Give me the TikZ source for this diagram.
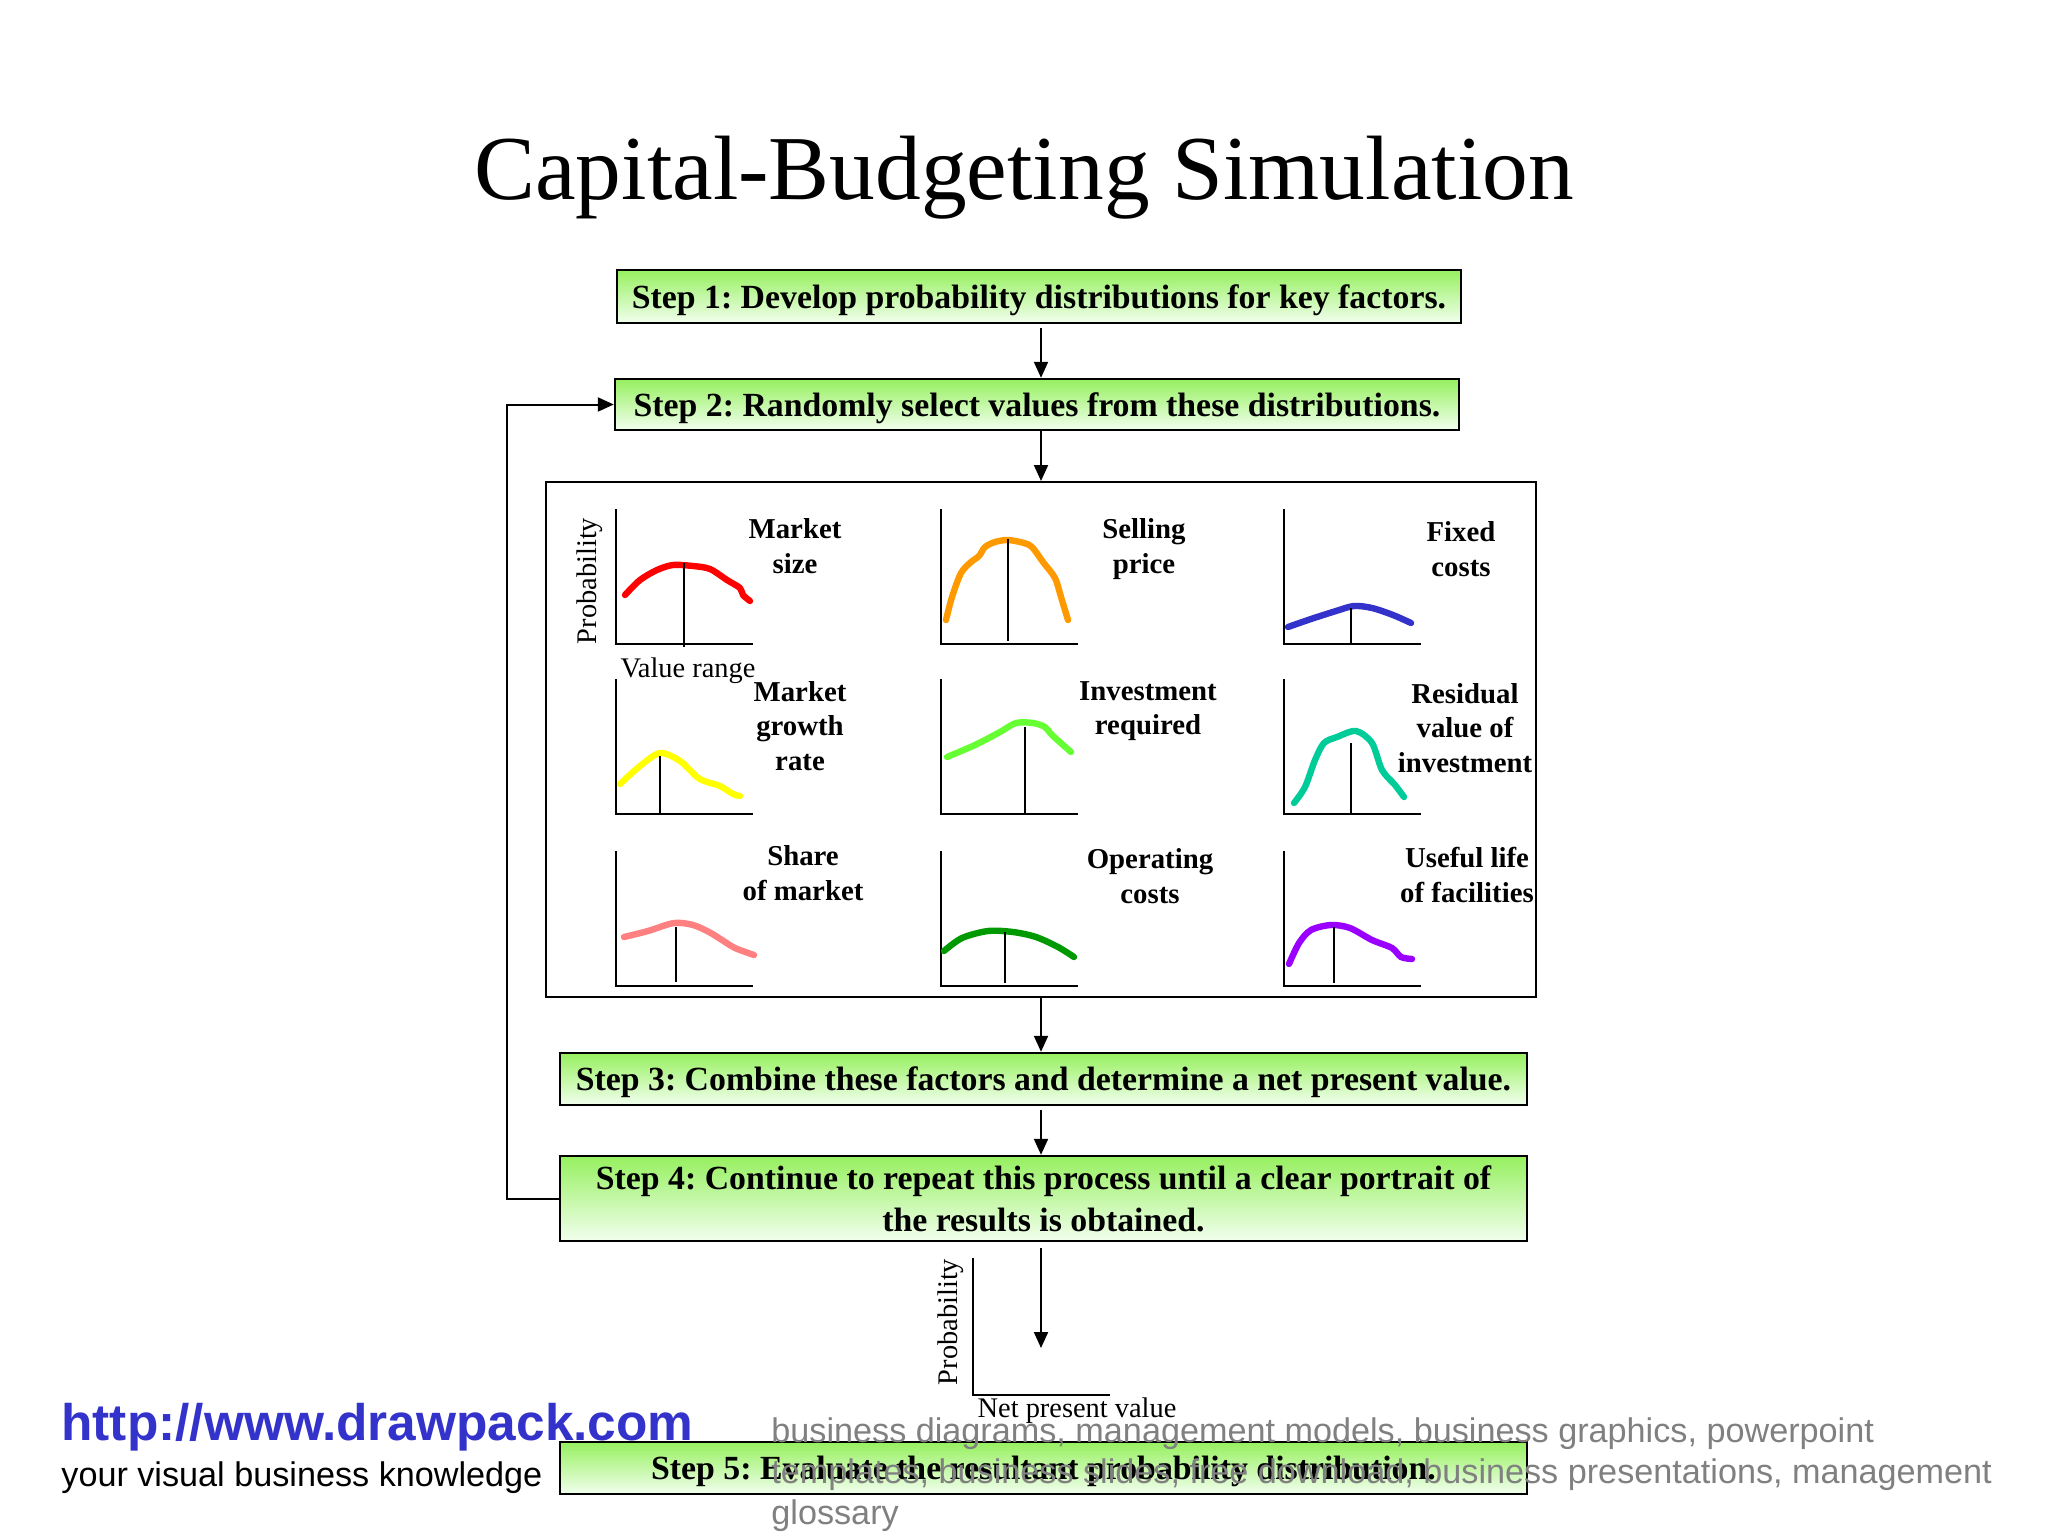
\documentclass[tikz,border=0pt]{standalone}
\usepackage{fontspec}
\setmainfont{Liberation Serif}
\newfontfamily\arialfont{Liberation Sans}
\usetikzlibrary{positioning,arrows.meta}
\definecolor{stepgreen}{RGB}{150,240,95}
\definecolor{steppale}{RGB}{242,255,238}
\definecolor{linkblue}{RGB}{51,51,204}
\definecolor{slogangrey}{RGB}{128,128,128}
\definecolor{cred}{RGB}{255,0,0}
\definecolor{corange}{RGB}{255,153,0}
\definecolor{cblue}{RGB}{51,51,204}
\definecolor{cyellow}{RGB}{255,255,0}
\definecolor{clime}{RGB}{102,255,51}
\definecolor{cteal}{RGB}{0,204,153}
\definecolor{cpink}{RGB}{255,128,128}
\definecolor{cgreen}{RGB}{0,153,0}
\definecolor{cpurple}{RGB}{153,0,255}
\frenchspacing

\begin{document}
\begin{tikzpicture}[x=0.5pt,y=-0.5pt,
	stepbox/.style={draw,line width=1.2pt,top color=stepgreen,bottom color=steppale,
		font=\bfseries\fontsize{16.9}{21}\selectfont,align=center,inner sep=0pt,text depth=0pt},
	arr/.style={-{Triangle[length=8pt,width=7pt]},line width=1pt},
	curve/.style={line width=3.2pt,line cap=round,line join=round},
	meanline/.style={line width=0.8pt},
	factor/.style={font=\bfseries\fontsize{14.4}{17.3}\selectfont,align=center,inner sep=0pt},
	axislabel/.style={font=\fontsize{14.2}{16}\selectfont,inner sep=0pt}]
		\useasboundingbox (0,0) rectangle (2048,1536);
		\node[font=\fontsize{45.7}{52}\selectfont] (title) at (1024,178) {Capital-Budgeting Simulation};
		\node[stepbox,minimum width=422pt,minimum height=26.5pt] (s1) at (1039,296.5)
			{Step 1: Develop probability distributions for key factors.};
		\node[stepbox,minimum width=422pt,minimum height=25.5pt] (s2) at (1037,404.5)
			{Step 2: Randomly select values from these distributions.};
		\node[draw,line width=1pt,minimum width=495pt,minimum height=257.5pt] (panel) at (1041,739.5) {};
		\node[stepbox,minimum width=483.5pt,minimum height=26pt] (s3) at (1043.5,1079)
			{Step 3: Combine these factors and determine a net present value.};
		\node[stepbox,minimum width=483.5pt,minimum height=42.5pt] (s4) at (1043.5,1198.5)
			{Step 4: Continue to repeat this process until a clear portrait of\\the results is obtained.};
		\node[stepbox,minimum width=483.5pt,minimum height=26pt] (s5) at (1043.5,1468)
			{Step 5: Evaluate the resultant probability distribution.};
		\coordinate (npvtip) at (1041,1348);
		\draw[arr] ([yshift=-2pt]s1.south -| panel.north) -- (s2.north -| panel.north);
		\draw[arr] (s2.south -| panel.north) -- (panel.north);
		\draw[arr] (panel.south) -- (s3.north -| panel.south);
		\draw[arr] ([yshift=-2pt]s3.south -| panel.south) -- (s4.north -| panel.south);
		\draw[arr] ([yshift=-3pt]s4.south -| panel.south) -- (npvtip);
		\draw[arr] (s4.west) -- ++(-52,0) |- (s2.west);
		% small charts
		\foreach \cx in {616,941,1284}{
			\foreach \cy in {644,814,986}{
				\draw[line width=1pt] (\cx,\cy-135) -- (\cx,\cy) -- (\cx+137,\cy);
			}
		}
		\begin{scope}[shift={(616,644)},yscale=-1]
			\draw[curve,cred] plot[smooth,tension=0.5] coordinates {(9,49) (24,64) (41,74) (57,79) (77,78) (94,75) (111,64) (124,56) (127,49) (134,43)};
			\draw[meanline] (68,81) -- (68,-3);
		\end{scope}
		\begin{scope}[shift={(941,644)},yscale=-1]
			\draw[curve,corange] plot[smooth,tension=0.5] coordinates {(5,24) (11,47) (20,71) (30,82) (38,88) (44,97) (54,102) (67,104) (83,101) (91,97) (102,82) (114,66) (120,47) (127,24)};
			\draw[meanline] (67,105) -- (67,3);
		\end{scope}
		\begin{scope}[shift={(1284,644)},yscale=-1]
			\draw[curve,cblue] plot[smooth,tension=0.5] coordinates {(4,17) (27,25) (52,33) (70,38) (88,36) (109,29) (127,21)};
			\draw[meanline] (67,36) -- (67,0);
		\end{scope}
		\begin{scope}[shift={(616,814)},yscale=-1]
			\draw[curve,cyellow] plot[smooth,tension=0.5] coordinates {(4,30) (24,48) (44,61) (64,53) (81,37) (91,32) (104,28) (117,20) (124,18)};
			\draw[meanline] (44,58) -- (44,0);
		\end{scope}
		\begin{scope}[shift={(941,814)},yscale=-1]
			\draw[curve,clime] plot[smooth,tension=0.5] coordinates {(6,57) (34,69) (59,82) (75,91) (92,91) (104,87) (111,79) (130,62)};
			\draw[meanline] (84,87) -- (84,0);
		\end{scope}
		\begin{scope}[shift={(1284,814)},yscale=-1]
			\draw[curve,cteal] plot[smooth,tension=0.5] coordinates {(10,11) (21,27) (31,54) (40,71) (53,77) (72,83) (88,71) (98,44) (111,29) (120,17)};
			\draw[meanline] (67,71) -- (67,0);
		\end{scope}
		\begin{scope}[shift={(616,986)},yscale=-1]
			\draw[curve,cpink] plot[smooth,tension=0.5] coordinates {(8,49) (32,55) (58,63) (77,61) (93,54) (106,46) (119,38) (138,31)};
			\draw[meanline] (60,59) -- (60,4);
		\end{scope}
		\begin{scope}[shift={(941,986)},yscale=-1]
			\draw[curve,cgreen] plot[smooth,tension=0.5] coordinates {(3,35) (21,48) (47,55) (72,54) (95,49) (117,39) (133,29)};
			\draw[meanline] (64,54) -- (64,3);
		\end{scope}
		\begin{scope}[shift={(1284,986)},yscale=-1]
			\draw[curve,cpurple] plot[smooth,tension=0.5] coordinates {(5,22) (15,43) (27,56) (47,61) (66,58) (88,46) (108,38) (117,29) (128,27)};
			\draw[meanline] (50,59) -- (50,3);
		\end{scope}
		\foreach \name/\x/\y/\txt in {%
			msize/795/546/{Market\\size}, sprice/1144/549/{Selling\\price},%
			fcosts/1461/549/{Fixed\\costs}, mgrowth/800/726/{Market\\growth\\rate},%
			invest/1148/711/{Investment\\required}, resid/1465/728/{Residual\\value of\\investment},%
			share/803/873/{Share\\of market}, opcosts/1150/876/{Operating\\costs},%
			life/1467/875/{Useful life\\of facilities}%
			} {%
			\node[factor] (\name) at (\x,\y) {\txt};%
		}
		\node[axislabel,rotate=90] (prob) at (590,581) {Probability};
		\node[axislabel] (vrange) at (688,671) {Value range};
		% net present value chart
		\draw[line width=1pt] (973,1258) -- (973,1395) -- (1110,1395);
		\node[axislabel,rotate=90] (npvprob) at (951,1322) {Probability};
		\node[axislabel] (npv) at (1077,1411) {Net present value};
		% footer
		\node[font=\arialfont\bfseries\fontsize{25.7}{30}\selectfont,text=linkblue,anchor=west,inner sep=0pt]
			(url) at (61,1427) {http://www.drawpack.com};
		\node[font=\arialfont\fontsize{17.1}{20}\selectfont,anchor=west,inner sep=0pt]
			(tagline) at (61,1478) {your visual business knowledge};
		\node[font=\arialfont\fontsize{17.1}{20.5}\selectfont,text=slogangrey,align=left,anchor=north west,inner sep=0pt]
			(slogan) at (771,1417) {business diagrams, management models, business graphics, powerpoint\\templates, business slides, free download, business presentations, management\\glossary};
	\end{tikzpicture}
\end{document}
